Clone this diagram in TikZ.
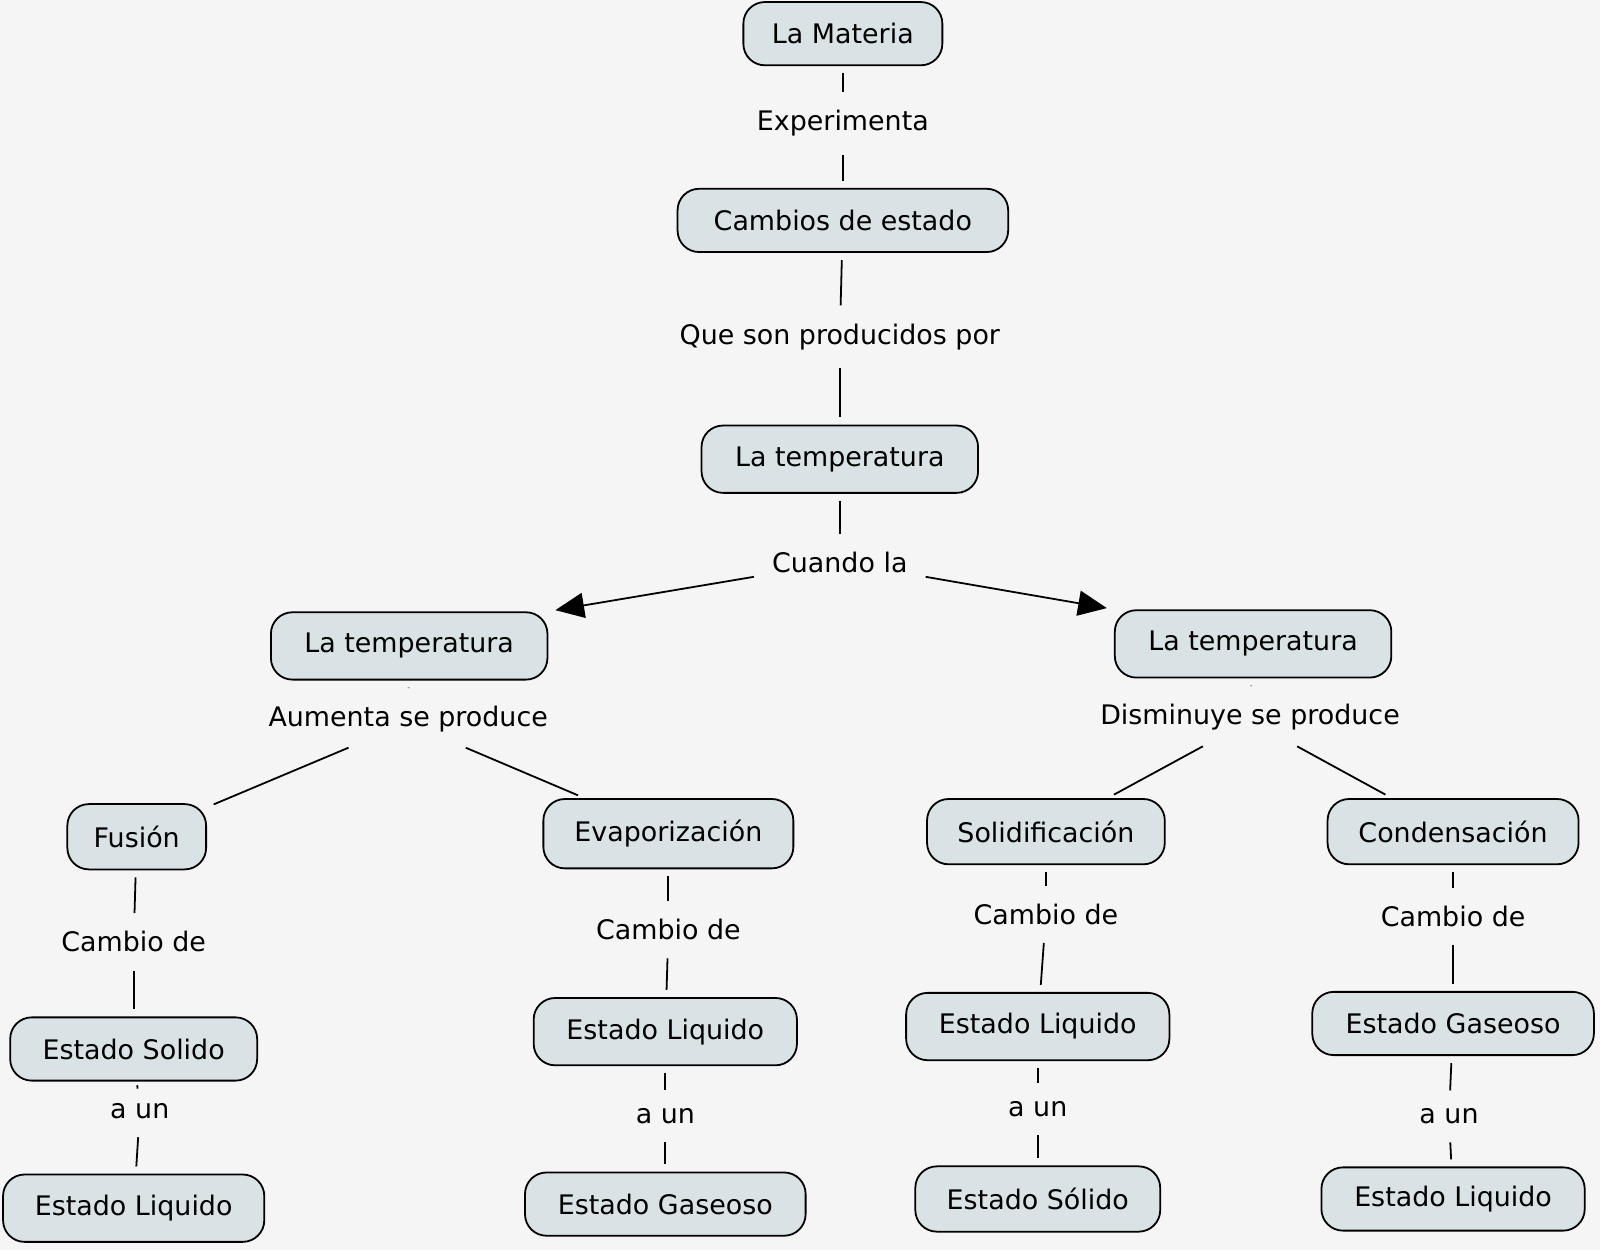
\documentclass[tikz,border=0pt]{standalone}
\usepackage{fontspec}
\setmainfont{DejaVu Sans}
\usetikzlibrary{arrows.meta}
\definecolor{boxfill}{HTML}{D9E2E5}
\definecolor{bg}{HTML}{F5F5F5}
\begin{document}
\begin{tikzpicture}[x=0.02cm,y=-0.02cm,
  cbox/.style={draw=black,line width=1pt,fill=boxfill,rounded corners=12pt,font=\fontsize{15}{18}\selectfont,inner sep=0pt},
  lbl/.style={font=\fontsize{15}{18}\selectfont,inner sep=6pt},
  ln/.style={line width=1pt,shorten <=4pt,shorten >=4pt},
  ar/.style={ln,-{Triangle[length=16pt,width=14pt]}}]
\fill[bg] (0,0) rectangle (1568,1225);
\useasboundingbox (0,0) rectangle (1568,1225);
\newcommand{\bx}[6]{\node[cbox,minimum width=#4*0.02cm,minimum height=#5*0.02cm] (#1) at (#2,#3) {#6};}
\bx{materia}{826}{33}{195}{62}{La Materia}
\bx{cambios}{826}{216}{324}{62}{Cambios de estado}
\bx{temp}{823}{450}{271}{66}{La temperatura}
\bx{tempL}{401}{633}{271}{66}{La temperatura}
\bx{tempR}{1228}{631}{271}{66}{La temperatura}
\bx{fusion}{134}{820}{136}{64}{Fusión}
\bx{evap}{655}{817}{245}{68}{Evaporización}
\bx{solid}{1025}{815}{233}{64}{Solidificación}
\bx{cond}{1424}{815}{246}{64}{Condensación}
\bx{esolido}{131}{1028}{242}{62}{Estado Solido}
\bx{eliq1}{652}{1011}{258}{66}{Estado Liquido}
\bx{eliq2}{1017}{1006}{258}{66}{Estado Liquido}
\bx{egas1}{1424}{1003}{276}{62}{Estado Gaseoso}
\bx{eliq3}{131}{1184}{256}{66}{Estado Liquido}
\bx{egas2}{652}{1180}{275}{62}{Estado Gaseoso}
\bx{esol2}{1017}{1175}{240}{64}{Estado Sólido}
\bx{eliq4}{1424}{1175}{258}{62}{Estado Liquido}
\node[lbl] (l1) at (826,121) {Experimenta};
\node[lbl] (l2) at (823,330) {Que son producidos por};
\node[lbl] (l3) at (823,551) {Cuando la};
\node[lbl] (l4) at (400,705) {Aumenta se produce};
\node[lbl] (l5) at (1225,703) {Disminuye se produce};
\node[lbl] (c1) at (131,923) {Cambio de};
\node[lbl] (c2) at (655,911) {Cambio de};
\node[lbl] (c3) at (1025,896) {Cambio de};
\node[lbl] (c4) at (1424,898) {Cambio de};
\node[lbl] (a1) at (137,1089) {a un};
\node[lbl] (a2) at (652,1094) {a un};
\node[lbl] (a3) at (1017,1087) {a un};
\node[lbl] (a4) at (1420,1094) {a un};
\draw[ln] (materia) -- (l1); \draw[ln] (l1) -- (cambios);
\draw[ln] (cambios) -- (l2); \draw[ln] (l2) -- (temp);
\draw[ln] (temp) -- (l3);
\draw[ar] (l3.south west) ++(0,-8) -- (tempL.north east);
\draw[ar] (l3.south east) ++(0,-8) -- (tempR.north west);
\draw[ln] (tempL) -- (l4); \draw[ln] (tempR) -- (l5);
\draw[ln] (348,730) -- (fusion); \draw[ln] (450,730) -- (evap);
\draw[ln] (1185,728) -- (solid); \draw[ln] (1265,728) -- (cond);
\foreach \a/\b/\c/\d/\e in {fusion/c1/esolido/a1/eliq3, evap/c2/eliq1/a2/egas2, solid/c3/eliq2/a3/esol2, cond/c4/egas1/a4/eliq4}{
  \draw[ln] (\a) -- (\b); \draw[ln] (\b) -- (\c); \draw[ln] (\c) -- (\d); \draw[ln] (\d) -- (\e);}
\end{tikzpicture}
\end{document}
